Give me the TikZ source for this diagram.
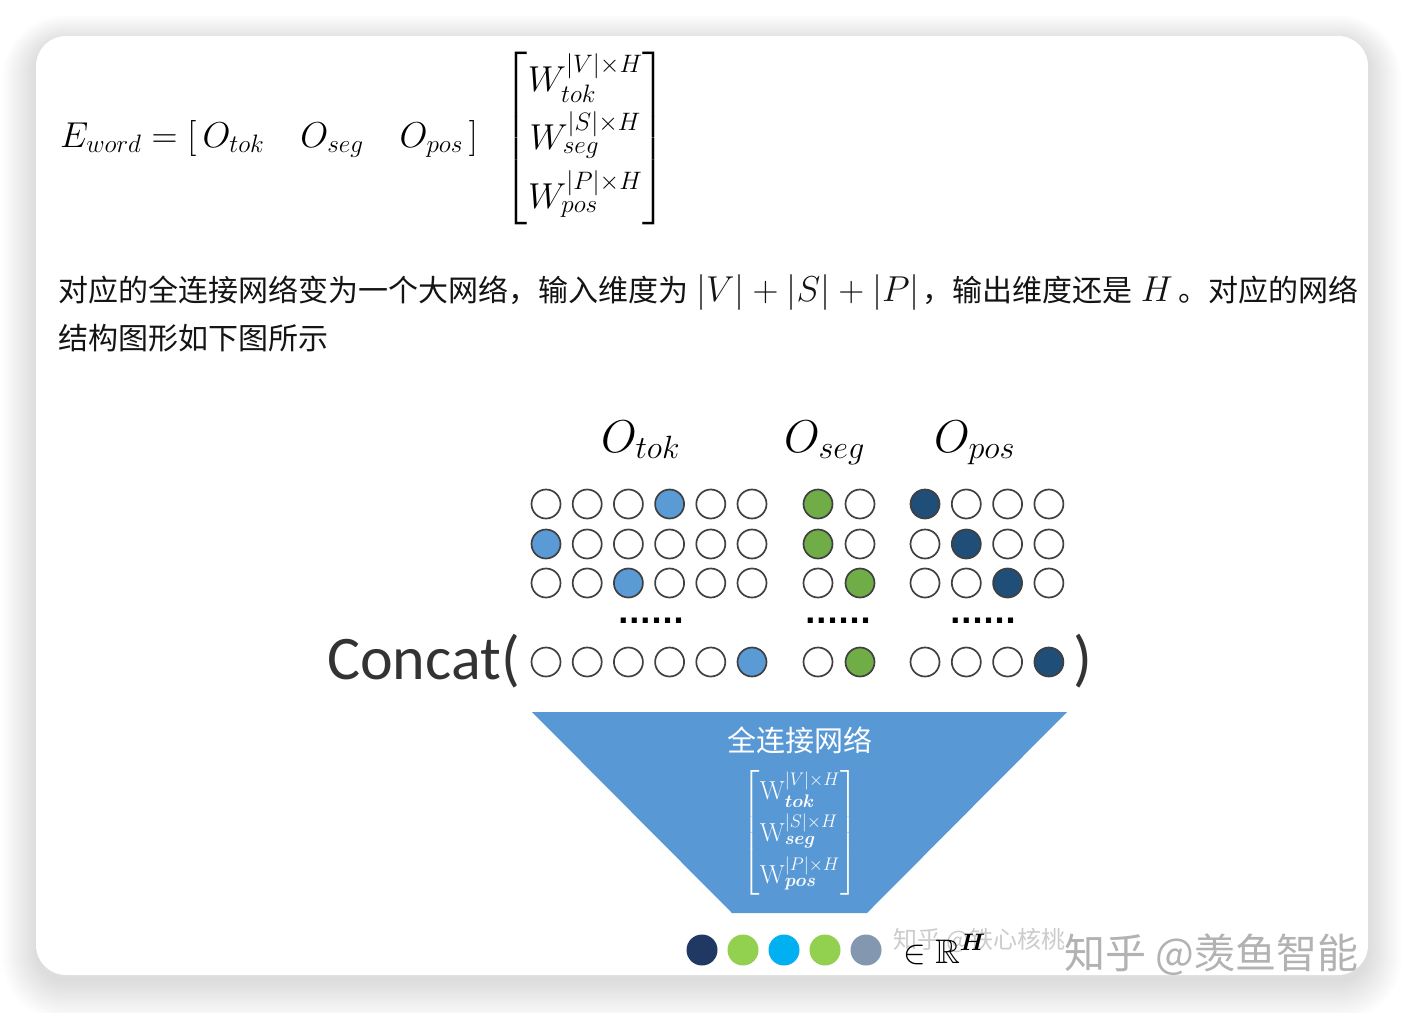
\RequirePackage{fix-cm}
\documentclass[tikz,border=0pt]{standalone}
\usepackage{amsmath}
\usepackage{amssymb}
\usepackage{fontspec}
\setsansfont{Carlito}
\newfontfamily\cjk{Noto Sans CJK SC}
\newfontfamily\dotfont{DejaVu Sans}

\definecolor{tokblue}{RGB}{91,155,213}
\definecolor{seggreen}{RGB}{112,173,71}
\definecolor{posblue}{RGB}{31,78,121}
\definecolor{fcblue}{RGB}{88,152,212}
\definecolor{outnavy}{RGB}{31,56,100}
\definecolor{outgreen}{RGB}{146,208,80}
\definecolor{outcyan}{RGB}{0,176,240}
\definecolor{outgrey}{RGB}{132,151,176}

\tikzset{
  cell/.style={circle, draw=black!75, line width=1.7pt, minimum size=29pt, inner sep=0pt},
  outdot/.style={circle, minimum size=31pt, inner sep=0pt},
  dotrow/.style={font=\dotfont\bfseries\fontsize{29}{30}\selectfont, inner sep=0pt},
  olabel/.style={anchor=base west, font=\fontsize{46}{50}\selectfont, inner sep=0pt},
  bigsans/.style={anchor=base west, font=\sffamily\fontsize{62}{70}\selectfont, text=black!80, inner sep=0pt},
  cjkline/.style={anchor=base west, font=\cjk\fontsize{30}{36}\selectfont, text=black!92, inner sep=0pt}
}

\begin{document}
\begin{tikzpicture}[x=1pt, y=-1pt]
    \useasboundingbox (0,0) rectangle (1404,1012);
    \fill[white] (0,0) rectangle (1404,1012);
    \foreach \i in {1,...,34}
      \fill[black, opacity=0.0045, rounded corners={(30+\i)*1pt}] (36-\i,42-0.8*\i) rectangle (1368+\i,981+1.2*\i);
    \fill[white, rounded corners=30pt] (36,36) rectangle (1368,975);

    \node[anchor=base west, font=\fontsize{36}{43}\selectfont, inner sep=0pt] (Eword) at (60,147)
      {$E_{word} = [\,O_{tok}\quad O_{seg}\quad O_{pos}\,]\;\;\def\arraystretch{1.36}\begin{bmatrix}W^{|V|\times H}_{tok}\\ W^{|S|\times H}_{seg}\\ W^{|P|\times H}_{pos}\end{bmatrix}$};

    \node[cjkline] (line1) at (58,301) {对应的全连接网络变为一个大网络，输入维度为\hspace{8pt}{\fontsize{36}{43}\selectfont$|V|+|S|+|P|$}\hspace{3pt}，输出维度还是\hspace{8pt}{\fontsize{36}{43}\selectfont$H$}\hspace{6pt}。对应的网络};
    \node[cjkline] (line2) at (58,349) {结构图形如下图所示};

    \node[olabel] (Otok) at (601,452) {$O_{tok}$};
    \node[olabel] (Oseg) at (784,452) {$O_{seg}$};
    \node[olabel] (Opos) at (934,452) {$O_{pos}$};

    \foreach \r/\y/\t/\s/\p in {1/504/4/1/1, 2/544/1/1/2, 3/583/3/2/3, 4/662/6/2/4} {
      \foreach \c in {1,...,6} {
        \ifnum\c=\t\relax \def\fc{tokblue}\else \def\fc{white}\fi
        \node[cell, fill=\fc] (tok-\r-\c) at ({546+41.2*(\c-1)},\y) {};
      }
      \foreach \c in {1,2} {
        \ifnum\c=\s\relax \def\fc{seggreen}\else \def\fc{white}\fi
        \node[cell, fill=\fc] (seg-\r-\c) at ({818+42*(\c-1)},\y) {};
      }
      \foreach \c in {1,...,4} {
        \ifnum\c=\p\relax \def\fc{posblue}\else \def\fc{white}\fi
        \node[cell, fill=\fc] (pos-\r-\c) at ({925+41.3*(\c-1)},\y) {};
      }
    }

    \node[dotrow] (tokdots) at (651,621) {......};
    \node[dotrow] (segdots) at (838,621) {......};
    \node[dotrow] (posdots) at (983,621) {......};

    \node[bigsans] (concat) at (327,679) {Concat(};
    \node[bigsans] (rparen) at (1073,679) {)};

    \fill[fcblue] (532,712) -- (1067,712) -- (867,913) -- (732,913) -- cycle;
    \node[font=\cjk\fontsize{29}{32}\selectfont, text=white, inner sep=0pt] (fctitle) at (800,740) {全连接网络};
    \node[font=\fontsize{26}{31}\selectfont, text=white, inner sep=0pt] (fcmat) at (800,833)
      {$\def\arraystretch{1.36}\left[\begin{array}{@{}l@{}}\mathrm{W}^{|V|\times H}_{\boldsymbol{tok}}\\ \mathrm{W}^{|S|\times H}_{\boldsymbol{seg}}\\ \mathrm{W}^{|P|\times H}_{\boldsymbol{pos}}\end{array}\right]$};

    \foreach \c/\col in {1/outnavy, 2/outgreen, 3/outcyan, 4/outgreen, 5/outgrey}
      \node[outdot, fill=\col] (out-\c) at ({702+41*(\c-1)},950) {};

    \node[anchor=west, text=black!20, font=\cjk\fontsize{24}{26}\selectfont, inner sep=0pt] (wm1) at (893,940) {知乎 @铁心核桃};
    \node[anchor=base west, font=\fontsize{34}{40}\selectfont, inner sep=0pt] (inR) at (903,963) {$\in\mathbb{R}^{\boldsymbol{H}}$};
    \node[anchor=west, text=black!30, font=\cjk\fontsize{41}{45}\selectfont, inner sep=0pt] (wm2) at (1064,955) {知乎 @羡鱼智能};
\end{tikzpicture}
\end{document}
